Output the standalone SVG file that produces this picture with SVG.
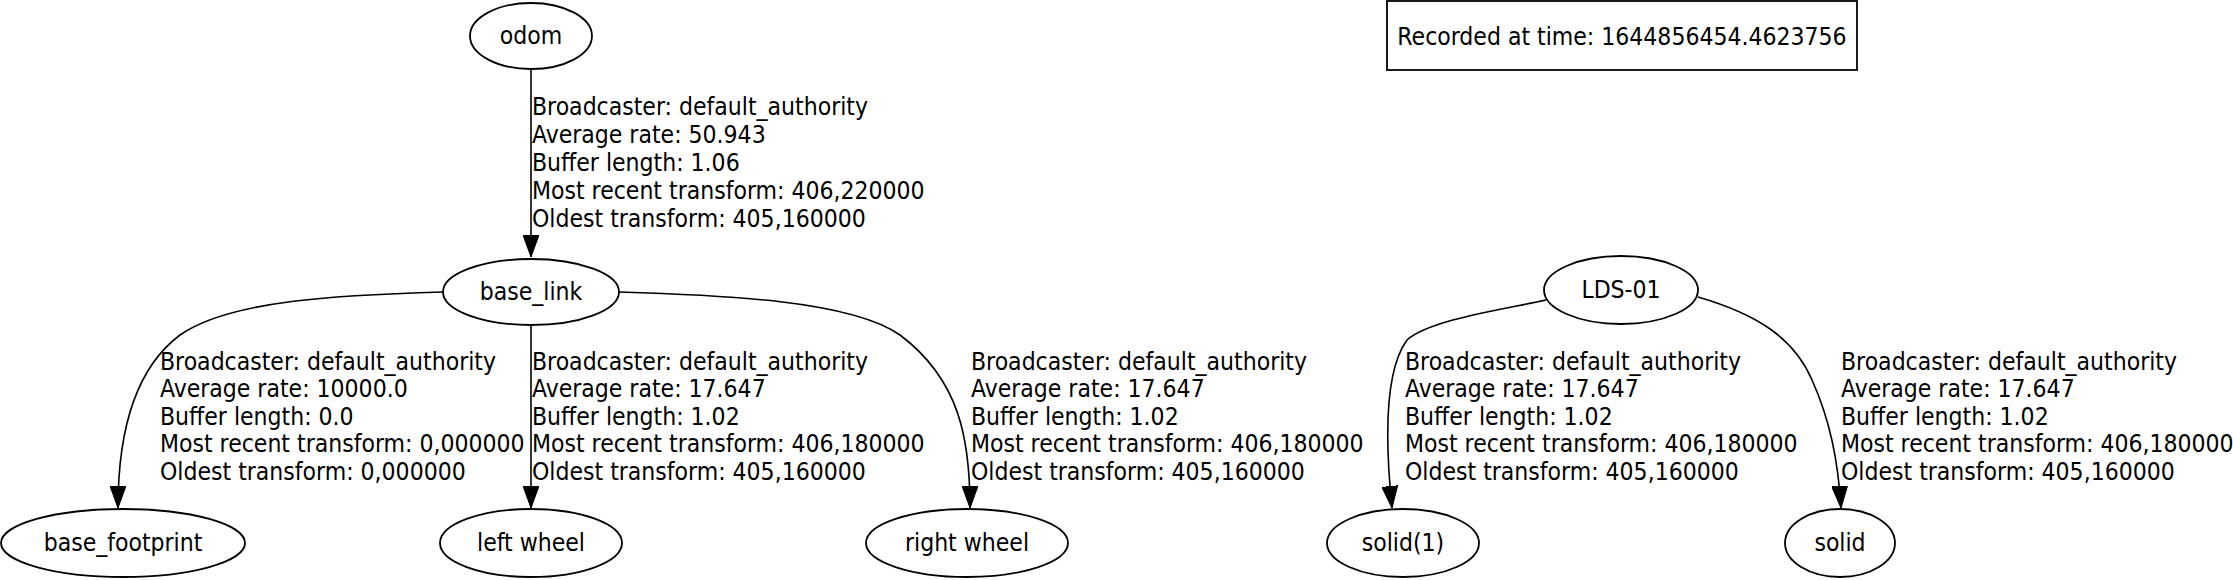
<svg xmlns="http://www.w3.org/2000/svg" width="2233" height="580" viewBox="0 0 2233 580">
<style>
text{font-family:"DejaVu Sans Condensed","DejaVu Sans",sans-serif;font-size:24.5px;fill:#000}
.n ellipse,.n rect{fill:none;stroke:#000;stroke-width:1.8}
.n text{text-anchor:middle}
.e path{fill:none;stroke:#000;stroke-width:1.6}
</style>
<defs><marker id="a" markerUnits="userSpaceOnUse" markerWidth="22" markerHeight="16" refX="22" refY="8" viewBox="0 0 22 16" orient="auto"><path d="M0,0 L22,8 L0,16 Z" fill="#000" stroke="#000"/></marker></defs>
<rect width="2233" height="580" fill="#fff"/>
<g id="edges" class="e">
<path d="M531,70 L531,257" marker-end="url(#a)"/>
<path d="M443,292 C340,295 230,300 180,335 C140,365 118,420 118,508" marker-end="url(#a)"/>
<path d="M531,326 L531,508" marker-end="url(#a)"/>
<path d="M619,292 C720,295 850,300 900,335 C960,380 970,440 970,508" marker-end="url(#a)"/>
<path d="M1546,300 C1500,310 1430,320 1407,340 C1385,370 1385,440 1392,508" marker-end="url(#a)"/>
<path d="M1698,297 C1760,315 1795,340 1812,380 C1830,420 1838,460 1841,508" marker-end="url(#a)"/>
</g>
<g id="labels">
<text x="532" y="115">Broadcaster: default_authority</text><text x="532" y="143">Average rate: 50.943</text><text x="532" y="171">Buffer length: 1.06</text><text x="532" y="199">Most recent transform: 406,220000</text><text x="532" y="227">Oldest transform: 405,160000</text>
<text x="160" y="370">Broadcaster: default_authority</text><text x="160" y="397">Average rate: 10000.0</text><text x="160" y="425">Buffer length: 0.0</text><text x="160" y="452">Most recent transform: 0,000000</text><text x="160" y="480">Oldest transform: 0,000000</text>
<text x="532" y="370">Broadcaster: default_authority</text><text x="532" y="397">Average rate: 17.647</text><text x="532" y="425">Buffer length: 1.02</text><text x="532" y="452">Most recent transform: 406,180000</text><text x="532" y="480">Oldest transform: 405,160000</text>
<text x="971" y="370">Broadcaster: default_authority</text><text x="971" y="397">Average rate: 17.647</text><text x="971" y="425">Buffer length: 1.02</text><text x="971" y="452">Most recent transform: 406,180000</text><text x="971" y="480">Oldest transform: 405,160000</text>
<text x="1405" y="370">Broadcaster: default_authority</text><text x="1405" y="397">Average rate: 17.647</text><text x="1405" y="425">Buffer length: 1.02</text><text x="1405" y="452">Most recent transform: 406,180000</text><text x="1405" y="480">Oldest transform: 405,160000</text>
<text x="1841" y="370">Broadcaster: default_authority</text><text x="1841" y="397">Average rate: 17.647</text><text x="1841" y="425">Buffer length: 1.02</text><text x="1841" y="452">Most recent transform: 406,180000</text><text x="1841" y="480">Oldest transform: 405,160000</text>
</g>
<g id="odom" class="n"><ellipse cx="531" cy="36" rx="61" ry="33"/><text x="531" y="44">odom</text></g>
<g id="base_link" class="n"><ellipse cx="531" cy="292" rx="88" ry="33"/><text x="531" y="300">base_link</text></g>
<g id="base_footprint" class="n"><ellipse cx="123" cy="543" rx="122" ry="34"/><text x="123" y="551">base_footprint</text></g>
<g id="left_wheel" class="n"><ellipse cx="531" cy="543" rx="91" ry="34"/><text x="531" y="551">left wheel</text></g>
<g id="right_wheel" class="n"><ellipse cx="967" cy="543" rx="101" ry="34"/><text x="967" y="551">right wheel</text></g>
<g id="LDS-01" class="n"><ellipse cx="1621" cy="290" rx="77" ry="34"/><text x="1621" y="298">LDS-01</text></g>
<g id="solid1" class="n"><ellipse cx="1403" cy="543" rx="76" ry="34"/><text x="1403" y="551">solid(1)</text></g>
<g id="solid" class="n"><ellipse cx="1840" cy="543" rx="55" ry="34"/><text x="1840" y="551">solid</text></g>
<g id="recorded" class="n"><rect x="1387" y="1" width="470" height="69"/><text x="1622" y="45">Recorded at time: 1644856454.4623756</text></g>
</svg>
